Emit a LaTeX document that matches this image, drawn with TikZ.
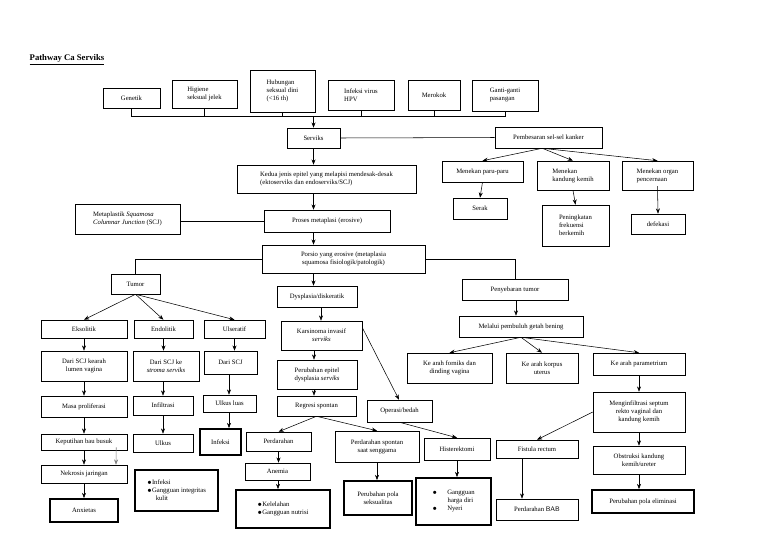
\documentclass[tikz,border=0pt]{standalone}
\usepackage{fontspec}
\setmainfont{Liberation Serif}
\usetikzlibrary{arrows.meta}
\newcommand{\pbox}[7][]{%
  \node[box, #1, minimum width={(#5-#3)*0.75pt}, minimum height={(#6-#4)*0.75pt}]
    (#2) at ({(#3+#5)/2},{(#4+#6)/2}) {#7};}
\tikzset{
    box/.style={draw, rectangle, inner sep=1pt, align=center, font=\fontsize{5}{6}\selectfont},
    final/.style={line width=1.3pt},
    arr/.style={-{Stealth[length=4pt,width=3pt]}, thin},
    ln/.style={thin}
}
\begin{document}
\begin{tikzpicture}[x=0.75pt, y=-0.75pt]
\useasboundingbox (0,0) rectangle (768,543);
\node[anchor=west, font=\fontsize{6.5}{8}\selectfont\bfseries] (title) at (25,60) {\underline{Pathway Ca Serviks}};
% faktor risiko
\pbox{genetik}{103}{88}{160}{108}{Genetik}
\pbox[align=left]{higiene}{172}{80}{237}{108}{Higiene\\seksual jelek}
\pbox[align=left]{hubungan}{250}{70}{315}{112}{Hubungan\\seksual dini\\(<16 th)}
\pbox[align=left]{hpv}{328}{80}{394}{110}{Infeksi virus\\HPV}
\pbox[align=left]{rokok}{408}{80}{460}{110}{Merokok}
\pbox[align=left]{ganti}{472}{80}{538}{111}{Ganti-ganti\\pasangan}
\coordinate (bus) at (0,116);
\draw[ln] (genetik.south) |- (bus -| ganti.south) -- (ganti.south);
\draw[ln] (higiene.south) -- (higiene.south |- bus) (hubungan.south) -- (hubungan.south |- bus)
    (hpv.south) -- (hpv.south |- bus) (rokok.south) -- (rokok.south |- bus);
% serviks
\pbox{serviks}{287}{128}{340}{148}{Serviks}
\draw[arr] (serviks.north |- bus) -- (serviks.north);
\pbox{pemb}{495}{127}{602}{148}{Pembesaran sel-sel kanker}
\draw[ln] (serviks.east) -- (pemb.west);
\pbox{paru}{442}{161}{523}{182}{Menekan paru-paru}
\pbox[align=left]{kandung}{537}{161}{609}{190}{Menekan\\kandung kemih}
\pbox[align=left]{organ}{622}{161}{693}{190}{Menekan organ\\pencernaan}
\draw[arr] (pemb.-120) -- (paru.north);
\draw[arr] (pemb.-120) -- (kandung.north);
\draw[arr] (pemb.-120) -- (organ.north);
\pbox[align=left]{serak}{453}{198}{507}{219}{Serak}
\pbox[align=left]{frek}{542}{205}{609}{246}{Peningkatan\\frekuensi\\berkemih}
\pbox{defek}{631}{214}{685}{234}{defekasi}
\draw[arr] (paru.south) -- (serak.north);
\draw[arr] (kandung.south) -- (frek.north);
\draw[arr] (organ.south) ++(0,-4) -- (defek.north);
% metaplasi
\pbox[align=left]{kedua}{237}{165}{416}{193}{Kedua jenis epitel yang melapisi mendesak-desak\\(ektoserviks dan endoserviks/SCJ)}
\pbox[align=left]{metapl}{75}{204}{180}{234}{Metaplastik \textit{Squamosa}\\\textit{Columnar Junction} (SCJ)}
\pbox{proses}{264}{210}{390}{232}{Proses metaplasi (erosive)}
\pbox{porsio}{262}{245}{425}{273}{Porsio yang erosive (metaplasia\\squamosa fisiologik/patologik)}
\draw[arr] (serviks.south) -- (kedua.north -| serviks.south);
\draw[arr] (kedua.south -| serviks.south) -- (proses.north -| serviks.south);
\draw[ln] (metapl.east |- proses.west) -- (proses.west);
\draw[arr] (proses.south -| serviks.south) -- (porsio.north -| serviks.south);
% tumor
\pbox{tumor}{111}{274}{160}{294}{Tumor}
\pbox{penyeb}{462}{279}{568}{300}{Penyebaran tumor}
\pbox[align=left]{dysp}{277}{286}{357}{307}{Dysplasia/diskeratik}
\draw[ln] (porsio.west) -| (tumor.north);
\draw[ln] (porsio.east) -| (penyeb.north);
\draw[arr] (porsio.south -| serviks.south) -- (dysp.north -| serviks.south);
\pbox{eks}{41}{320}{127}{338}{Eksolitik}
\pbox{endo}{134}{320}{193}{338}{Endolitik}
\pbox{ulser}{204}{320}{265}{338}{Ulseratif}
\draw[arr] (tumor.south) -- (eks.north);
\draw[arr] (tumor.south) -- (endo.north);
\draw[arr] (tumor.south) -- (ulser.north);
\pbox{lumen}{41}{351}{127}{381}{Dari SCJ kearah\\lumen vagina}
\pbox{masa}{41}{396}{127}{417}{Masa proliferasi}
\pbox{keput}{41}{434}{127}{450}{Keputihan bau busuk}
\pbox{nekro}{41}{465}{127}{483}{Nekrosis jaringan}
\pbox[final, align=left]{anxi}{50}{499}{118}{522}{Anxietas}
\draw[arr] (eks.south) -- (lumen.north);
\draw[arr] (lumen.south) -- (masa.north);
\draw[arr] (masa.south) -- (keput.north);
\draw[arr] (keput.south) -- (nekro.north);
\draw[arr, gray] (keput.south east) ++(-11,-3) -- (nekro.north -| 116,0);
\draw[arr] (nekro.south) -- (anxi.north);
\pbox{stroma}{133}{351}{199}{381}{Dari SCJ ke\\\textit{stroma serviks}}
\pbox{infil}{133}{396}{193}{415}{Infiltrasi}
\pbox{ulkus}{133}{434}{193}{452}{Ulkus}
\pbox[final, align=left]{infkulit}{135}{470}{218}{511}{$\bullet$Infeksi\\$\bullet$Gangguan integritas\\\hspace{1.3em}kulit}
\draw[arr] (endo.south) -- (stroma.north -| endo.south);
\draw[arr] (stroma.south -| infil.south) -- (infil.north);
\draw[arr] (infil.south) -- (ulkus.north);
\pbox{darisc}{204}{351}{257}{374}{Dari SCJ}
\pbox{ulkusl}{203}{395}{256}{412}{Ulkus luas}
\pbox[final, align=left]{infek}{200}{429}{241}{455}{Infeksi}
\draw[arr] (ulser.south) -- (darisc.north -| ulser.south);
\draw[arr] (darisc.south -| 229,0) -- (ulkusl.north -| 229,0);
\draw[arr] (ulkusl.south -| 229,0) -- (infek.north -| 229,0);
% karsinoma
\pbox{karsi}{281}{321}{362}{350}{Karsinoma invasif\\\textit{serviks}}
\pbox{epitel}{277}{360}{357}{389}{Perubahan epitel\\dysplasia \textit{serviks}}
\pbox{regresi}{277}{396}{356}{416}{Regresi spontan}
\pbox{operasi}{367}{400}{432}{422}{Operasi/bedah}
\draw[arr] (dysp.south -| 321,0) -- (karsi.north -| 321,0);
\draw[arr] (karsi.south -| 314,0) -- (epitel.north -| 314,0);
\draw[arr] (epitel.south -| 314,0) -- (regresi.north -| 314,0);
\draw[arr] (karsi.east) ++(0,-8) -- (operasi.north -| 399,0);
\pbox{perdar}{246}{432}{311}{451}{Perdarahan}
\pbox{senggama}{335}{431}{419}{462}{Perdarahan spontan\\saat senggama}
\pbox{histe}{424}{438}{490}{460}{Histerektomi}
\draw[arr] (regresi.south) -- (perdar.north);
\draw[arr] (regresi.south) -- (senggama.north);
\draw[arr] (operasi.south) -- (histe.north);
\pbox{anemia}{245}{463}{310}{480}{Anemia}
\pbox[final, align=left]{lelah}{236}{490}{330}{528}{$\bullet$Kelelahan\\$\bullet$Gangguan nutrisi}
\pbox[final]{seks}{344}{481}{412}{515}{Perubahan pola\\seksualitas}
\pbox[final, align=left]{harga}{416}{478}{491}{525}{$\bullet$\hspace{1.5em}Gangguan\\\hspace{2.3em}harga diri\\$\bullet$\hspace{1.5em}Nyeri}
\draw[arr] (perdar.south) -- (anemia.north -| perdar.south);
\draw[arr] (anemia.south -| 278,0) -- (lelah.north -| 278,0);
\draw[arr] (senggama.south) -- (seks.north -| senggama.south);
\draw[arr] (histe.south) -- (harga.north -| histe.south);
% penyebaran
\pbox{getah}{459}{316}{583}{337}{Melalui pembuluh getah bening}
\pbox{forniks}{407}{353}{492}{383}{Ke arah forniks dan\\dinding vagina}
\pbox{korpus}{506}{353}{578}{383}{Ke arah korpus\\uterus}
\pbox{param}{593}{353}{685}{375}{Ke arah parametrium}
\draw[arr] (penyeb.south -| 516,0) -- (getah.north -| 516,0);
\draw[arr] (getah.south) -- (forniks.north);
\draw[arr] (getah.south) -- (korpus.north);
\draw[arr] (getah.south) -- (param.north);
\pbox{septum}{593}{392}{685}{432}{Menginfiltrasi septum\\rekto vaginal dan\\kandung kemih}
\pbox{fistula}{496}{440}{578}{458}{Fistula rectum}
\pbox{obstr}{593}{446}{685}{474}{Obstruksi kandung\\kemih/ureter}
\pbox[final]{elim}{592}{490}{694}{513}{Perubahan pola eliminasi}
\pbox{bab}{496}{499}{578}{520}{Perdarahan {\sffamily BAB}}
\draw[arr] (param.south) -- (septum.north);
\draw[arr] (septum.west) -- (fistula.north);
\draw[arr] (septum.south) -- (obstr.north);
\draw[arr] (obstr.south) -- (elim.north -| obstr.south);
\draw[arr] (fistula.south -| 522,0) -- (bab.north -| 522,0);
\end{tikzpicture}
\end{document}
